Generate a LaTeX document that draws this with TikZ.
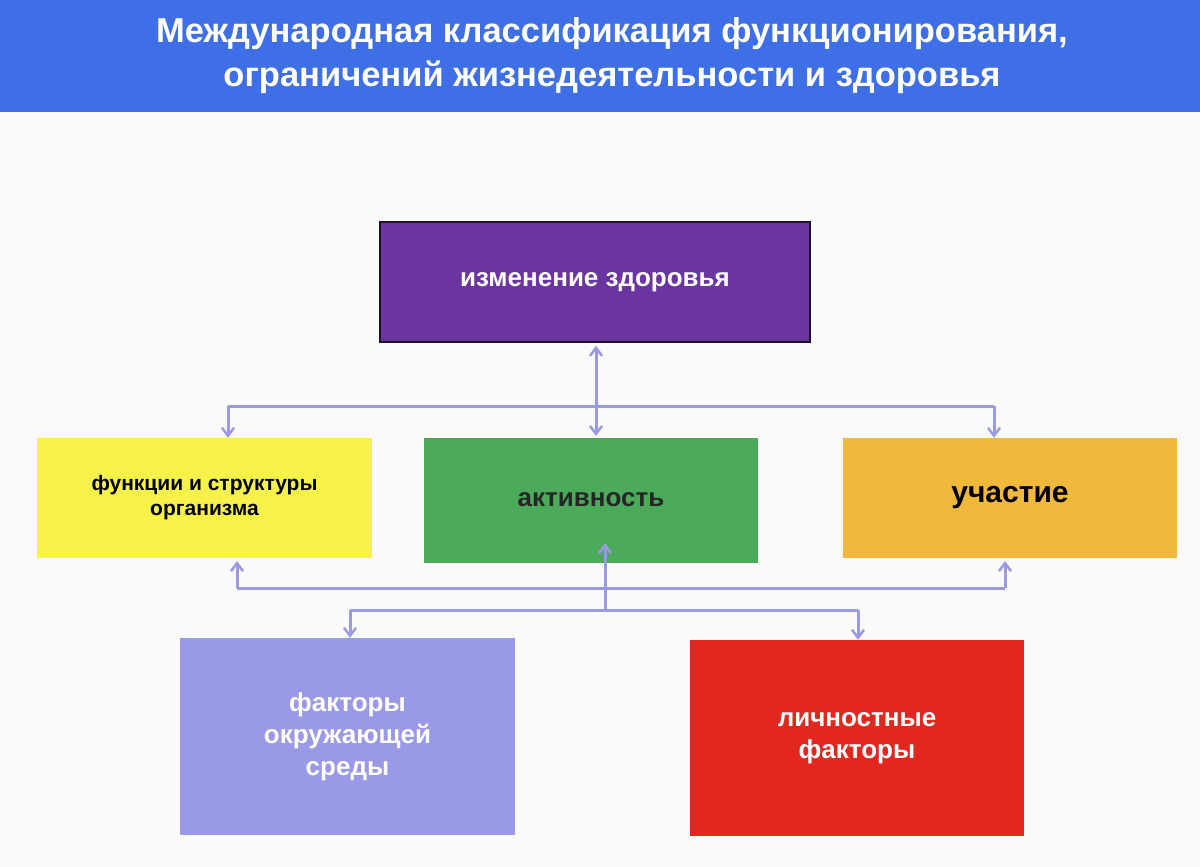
\documentclass[tikz,border=0pt]{standalone}
\usepackage{fontspec}
\setmainfont{Liberation Sans}
\usetikzlibrary{arrows.meta}
\definecolor{bar}{HTML}{3F6FE6}
\definecolor{lin}{HTML}{9A9AE0}
\definecolor{pur}{HTML}{6A35A0}
\definecolor{yel}{HTML}{F7F24A}
\definecolor{grn}{HTML}{4CAB5A}
\definecolor{org}{HTML}{F0B93C}
\definecolor{lav}{HTML}{9A99E8}
\definecolor{rd}{HTML}{E3271F}
\begin{document}
\begin{tikzpicture}[x=1pt,y=-1pt,
  conn/.style={draw=lin,line width=3pt,-{Straight Barb[length=8pt,width=12pt,line width=2.5pt]}}]
\fill[white!96!gray] (0,0) rectangle (1200,867);
\useasboundingbox (0,0) rectangle (1200,867);
\fill[bar] (0,0) rectangle (1200,112);
\node[text=white,font=\bfseries\fontsize{34.5}{44}\selectfont,align=center] (title) at (612,56)
  {Международная классификация функционирования,\\ограничений жизнедеятельности и здоровья};
\node[fill=pur,draw=black!70!pur,line width=1.5pt,minimum width=430pt,minimum height=120pt,text=white,font=\bfseries\fontsize{26}{30}\selectfont] (zd) at (595,282) {изменение здоровья};
\node[fill=yel,minimum width=335pt,minimum height=120pt,font=\bfseries\fontsize{21}{25}\selectfont,align=center] (fs) at (204.5,498) {функции и структуры\\организма};
\node[fill=grn,minimum width=334pt,minimum height=125pt,text=black!85,font=\bfseries\fontsize{26}{30}\selectfont] (ak) at (591,500) {активность};
\node[fill=org,minimum width=334pt,minimum height=120pt,font=\bfseries\fontsize{30}{34}\selectfont] (uch) at (1010,498) {участие};
\node[fill=lav,minimum width=335pt,minimum height=197pt,text=white,font=\bfseries\fontsize{26}{32}\selectfont,align=center] (env) at (347.5,736.5) {факторы\\окружающей\\среды};
\node[fill=rd,minimum width=334pt,minimum height=196pt,text=white,font=\bfseries\fontsize{26}{32}\selectfont,align=center] (pers) at (857,738) {личностные\\факторы};
% top connectors
\draw[conn,{Straight Barb[length=8pt,width=12pt,line width=2.5pt]}-{Straight Barb[length=8pt,width=12pt,line width=2.5pt]}] (zd.south -| 596,0) ++(0,3) -- (596,436);
\draw[draw=lin,line width=3pt] (228,406) -- (994,406);
\draw[conn] (228,406) -- (fs.north -| 228,0);
\draw[conn] (994,406) -- (uch.north -| 994,0);
% bottom connectors
\draw[draw=lin,line width=3pt] (237,588) -- (1005,588);
\draw[conn] (237,588) -- (237,561);
\draw[conn] (1005,588) -- (1005,561);
\draw[conn] (605,610) -- (605,543);
\draw[draw=lin,line width=3pt] (350,610) -- (858,610);
\draw[conn] (350,610) -- (env.north -| 350,0);
\draw[conn] (858,610) -- (pers.north -| 858,0);
\end{tikzpicture}
\end{document}
